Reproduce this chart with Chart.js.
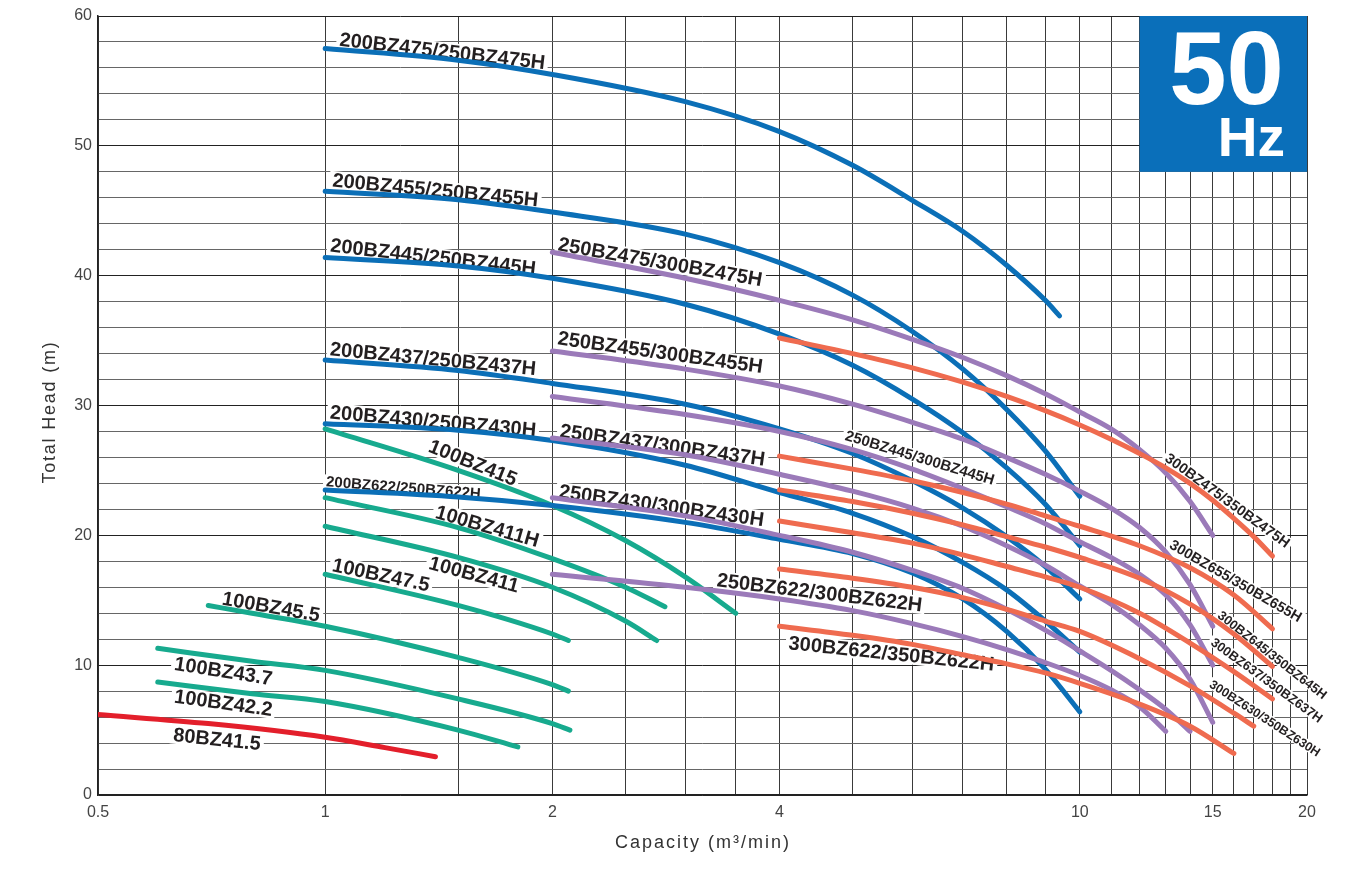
<!DOCTYPE html>
<html lang="en">
<head>
<meta charset="UTF-8">
<title>BZ pump curves 50Hz</title>
<script src="https://cdn.jsdelivr.net/npm/chart.js"></script>
<style>
  body { margin: 0; background: #fff; }
  canvas { display: block; }
</style>
</head>
<body>
<canvas id="chart" width="1372" height="875"></canvas>
<script>
// capacity (m3/min), total head (m)
const c80BZ41_5  = [[0.5,6.2],[0.7,5.5],[1,4.45],[1.2,3.65],[1.4,2.95]];
const c100BZ42_2 = [[0.6,8.7],[0.8,7.8],[1,7.2],[1.5,5.0],[1.8,3.7]];
const c100BZ43_7 = [[0.6,11.3],[0.8,10.3],[1,9.6],[1.5,7.4],[2,5.5],[2.11,5.0]];
const c100BZ45_5 = [[0.7,14.6],[0.8,14.0],[1,13.0],[1.5,10.6],[2,8.5],[2.1,8.0]];
const c100BZ47_5 = [[1,17.0],[1.5,14.6],[2,12.4],[2.1,11.9]];
const c100BZ411  = [[1,20.7],[1.5,18.3],[2,16.0],[2.5,13.4],[2.75,11.9]];
const c100BZ411H = [[1,22.9],[1.5,20.6],[2,18.2],[2.5,16.0],[2.82,14.5]];
const c100BZ415  = [[1,28.2],[1.5,25.0],[2,22.3],[2.5,19.6],[3,16.8],[3.5,14.0]];

const c200BZ475 = [[1,57.5],[1.5,56.6],[2,55.5],[3,53.4],[4,51.1],[5,48.5],[6,45.8],[7,43.4],[8,40.8],[9,38.1],[9.4,36.9]];
const c200BZ455 = [[1,46.5],[1.5,45.85],[2,44.9],[3,43.2],[4,41.0],[5,38.5],[6,35.7],[7,32.8],[8,29.7],[9,26.5],[10,23.0]];
const c200BZ445 = [[1,41.4],[1.5,40.75],[2,39.8],[3,37.8],[4,35.5],[5,33.1],[6,30.5],[7,27.9],[8,25.2],[9,22.4],[10,19.2]];
const c200BZ437 = [[1,33.5],[1.5,32.7],[2,31.7],[3,30.1],[4,28.2],[5,26.3],[6,24.2],[7,22.1],[8,19.9],[9,17.6],[10,15.1]];
const c200BZ430 = [[1,28.6],[1.5,28.1],[2,27.3],[3,25.4],[4,23.3],[5,21.7],[6,19.9],[7,17.9],[8,15.8],[9,13.4],[10,11.0]];
const c200BZ622 = [[1,23.5],[1.5,22.95],[2,22.3],[3,21.0],[4,19.7],[5,18.6],[6,17.1],[7,15.1],[8,12.6],[9,9.7],[10,6.4]];

const c250BZ475 = [[2,41.8],[3,39.8],[4,38.1],[5,36.6],[6,35.1],[7,33.7],[8,32.3],[9,30.9],[10,29.5],[11,28.2],[12,26.6],[13,24.8],[14,22.6],[15,20.0]];
const c250BZ455 = [[2,34.2],[3,32.8],[4,31.5],[5,30.1],[6,28.7],[7,27.4],[8,26.0],[9,24.7],[10,23.4],[11,22.1],[12,20.6],[13,18.7],[14,16.2],[15,13.0]];
const c250BZ445 = [[2,30.7],[3,29.3],[4,28.0],[5,26.6],[6,25.1],[7,23.6],[8,22.2],[9,20.9],[10,19.5],[11,18.3],[12,17.0],[13,15.4],[14,13.1],[15,10.0]];
const c250BZ437 = [[2,27.5],[3,26.2],[4,24.7],[5,23.4],[6,22.1],[7,20.7],[8,19.2],[9,17.7],[10,16.1],[11,14.7],[12,13.1],[13,11.3],[14,8.9],[15,5.6]];
const c250BZ430 = [[2,22.9],[3,21.5],[4,20.0],[5,18.7],[6,17.3],[7,15.9],[8,14.3],[9,12.7],[10,11.1],[11,9.6],[12,8.1],[13,6.6],[14,4.9]];
const c250BZ622 = [[2,17.0],[3,16.0],[4,15.1],[5,14.2],[6,13.2],[7,12.2],[8,11.2],[9,10.2],[10,9.2],[11,8.1],[12,6.8],[13,4.9]];

const c300BZ475 = [[4,35.2],[5,34.0],[6,32.9],[7,31.8],[8,30.7],[9,29.6],[10,28.5],[11,27.4],[12,26.3],[13,25.2],[14,24.0],[15,22.7],[16,21.3],[17,19.9],[18,18.4]];
const c300BZ655 = [[4,26.1],[5,25.1],[6,24.2],[7,23.3],[8,22.4],[9,21.5],[10,20.7],[12,19.2],[14,17.5],[16,15.4],[18,12.8]];
const c300BZ645 = [[4,23.5],[5,22.6],[6,21.7],[7,20.8],[8,19.9],[9,19.1],[10,18.3],[12,16.7],[14,14.7],[16,12.4],[18,9.9]];
const c300BZ637 = [[4,21.1],[5,20.2],[6,19.4],[7,18.5],[8,17.6],[9,16.8],[10,16.0],[12,14.0],[14,11.7],[16,9.5],[18,7.4]];
const c300BZ630 = [[4,17.4],[5,16.7],[6,16.0],[7,15.2],[8,14.3],[9,13.4],[10,12.6],[12,10.5],[14,8.4],[16,6.3],[17,5.3]];
const c300BZ622 = [[4,13.0],[5,12.3],[6,11.6],[7,10.8],[8,10.1],[9,9.4],[10,8.6],[12,7.0],[14,5.3],[16,3.2]];

const xGrid   = [0.5,1,1.5,2,2.5,3,3.5,4,5,6,7,8,9,10,11,12,13,14,15,16,17,18,19,20];
const xLabels = [0.5,1,2,4,10,15,20];

const BLUE = '#0b6fb7', TEAL = '#17aa8e', PURPLE = '#9b7ab9', ORANGE = '#ef6b4f', RED = '#e31f2b';

// drawn first = on top
const curves = [
  [c300BZ475, ORANGE], [c300BZ655, ORANGE], [c300BZ645, ORANGE], [c300BZ637, ORANGE], [c300BZ630, ORANGE], [c300BZ622, ORANGE],
  [c250BZ475, PURPLE], [c250BZ455, PURPLE], [c250BZ445, PURPLE], [c250BZ437, PURPLE], [c250BZ430, PURPLE], [c250BZ622, PURPLE],
  [c200BZ475, BLUE], [c200BZ455, BLUE], [c200BZ445, BLUE], [c200BZ437, BLUE], [c200BZ430, BLUE], [c200BZ622, BLUE],
  [c100BZ415, TEAL], [c100BZ411H, TEAL], [c100BZ411, TEAL], [c100BZ47_5, TEAL], [c100BZ45_5, TEAL], [c100BZ43_7, TEAL], [c100BZ42_2, TEAL],
  [c80BZ41_5, RED]
];

// text, q, h, angle, size
const tags = [
  ['200BZ475/250BZ475H', 1.43, 57.3, 6.5, 20],
  ['200BZ455/250BZ455H', 1.40, 46.6, 5.5, 20],
  ['200BZ445/250BZ445H', 1.39, 41.45, 6.5, 20],
  ['200BZ437/250BZ437H', 1.39, 33.6, 5.5, 20],
  ['200BZ430/250BZ430H', 1.39, 28.8, 5, 20],
  ['200BZ622/250BZ622H', 1.27, 23.7, 4.5, 15],
  ['100BZ415', 1.57, 25.6, 22, 20],
  ['100BZ411H', 1.64, 20.7, 16, 20],
  ['100BZ411', 1.575, 17.0, 15, 20],
  ['100BZ47.5', 1.186, 16.95, 12, 20],
  ['100BZ45.5', 0.848, 14.5, 10, 20],
  ['100BZ43.7', 0.733, 9.55, 9, 20],
  ['100BZ42.2', 0.733, 7.1, 8, 20],
  ['80BZ41.5', 0.719, 4.3, 6, 20],
  ['250BZ475/300BZ475H', 2.78, 41.06, 10, 20],
  ['250BZ455/300BZ455H', 2.78, 34.1, 8, 20],
  ['250BZ437/300BZ437H', 2.80, 26.96, 8, 20],
  ['250BZ430/300BZ430H', 2.79, 22.3, 8, 20],
  ['250BZ445/300BZ445H', 6.14, 26.0, 17, 15],
  ['250BZ622/300BZ622H', 4.52, 15.6, 7, 20],
  ['300BZ622/350BZ622H', 5.63, 10.9, 6, 20],
  ['300BZ475/350BZ475H', 15.7, 22.7, 36, 14.5],
  ['300BZ655/350BZ655H', 16.1, 16.5, 30, 14.5],
  ['300BZ645/350BZ645H', 18.0, 10.8, 38, 13],
  ['300BZ637/350BZ637H', 17.7, 8.86, 36, 13],
  ['300BZ630/350BZ630H', 17.6, 5.93, 33, 12.5]
];

const overlay = {
  id: 'overlay',
  beforeDatasetsDraw(chart) {
    const { ctx, scales: { x, y } } = chart;
    // 50 Hz badge
    const bx = x.getPixelForValue(12), by = y.getPixelForValue(60);
    const bw = x.getPixelForValue(20) - bx, bh = y.getPixelForValue(48) - by;
    ctx.save();
    ctx.fillStyle = '#0a6fba';
    ctx.fillRect(bx, by, bw, bh);
    ctx.fillStyle = '#fff';
    ctx.textAlign = 'center';
    ctx.textBaseline = 'alphabetic';
    ctx.font = 'bold 103px "Liberation Sans", Arial, sans-serif';
    ctx.fillText('50', bx + 87, by + 88);
    ctx.textAlign = 'right';
    ctx.font = 'bold 55px "Liberation Sans", Arial, sans-serif';
    ctx.fillText('Hz', bx + bw - 22, by + 140);
    ctx.restore();

    // curve names
    tags.forEach(([t, q, h, a, s]) => {
      const px = x.getPixelForValue(q), py = y.getPixelForValue(h);
      ctx.save();
      ctx.translate(px, py);
      ctx.rotate(a * Math.PI / 180);
      ctx.font = 'bold ' + s + 'px "Liberation Sans", Arial, sans-serif';
      const w = ctx.measureText(t).width;
      ctx.fillStyle = '#fff';
      ctx.fillRect(-w / 2 - 3, -s * 0.45, w + 6, s * 0.9);
      ctx.fillStyle = '#231f20';
      ctx.textAlign = 'center';
      ctx.textBaseline = 'middle';
      ctx.fillText(t, 0, 1);
      ctx.restore();
    });
  },
  afterDraw(chart) {
    const { ctx } = chart;
    ctx.save();
    ctx.fillStyle = '#333';
    ctx.font = '18px "Liberation Sans", Arial, sans-serif';
    ctx.letterSpacing = '2px';
    ctx.textAlign = 'center';
    ctx.textBaseline = 'middle';
    ctx.fillText('Capacity (m\u00b3/min)', 703, 843);
    ctx.translate(50, 412);
    ctx.rotate(-Math.PI / 2);
    ctx.letterSpacing = '1.8px';
    ctx.fillText('Total Head (m)', 0, 0);
    ctx.restore();
  }
};

new Chart(document.getElementById('chart'), {
  type: 'line',
  data: {
    datasets: curves.map(([pts, col]) => ({
      data: pts.map(([q, h]) => ({ x: q, y: h })),
      borderColor: col,
      borderWidth: 5,
      borderCapStyle: 'round',
      pointRadius: 0,
      fill: false,
      cubicInterpolationMode: 'monotone'
    }))
  },
  options: {
    responsive: false,
    animation: false,
    devicePixelRatio: 1,
    layout: { padding: { top: 16, right: 65, left: 0, bottom: 0 } },
    plugins: { legend: { display: false }, tooltip: { enabled: false } },
    scales: {
      x: {
        type: 'logarithmic',
        min: 0.5,
        max: 20,
        afterBuildTicks(s) { s.ticks = xGrid.map(v => ({ value: v })); },
        afterFit(s) { s.height = 80; },
        ticks: {
          autoSkip: false,
          maxRotation: 0,
          padding: 8,
          color: '#444',
          font: { size: 16, family: '"Liberation Sans", Arial, sans-serif' },
          callback: v => xLabels.includes(v) ? String(v) : ''
        },
        grid: { color: '#3a3a3a', lineWidth: 1, drawTicks: false },
        border: { color: '#222', width: 1.5 }
      },
      y: {
        min: 0,
        max: 60,
        afterFit(s) { s.width = 98; },
        ticks: {
          stepSize: 2,
          autoSkip: false,
          padding: 6,
          color: '#444',
          font: { size: 16, family: '"Liberation Sans", Arial, sans-serif' },
          callback: v => v % 10 === 0 ? String(v) : ''
        },
        grid: {
          color: c => c.tick && c.tick.value % 10 === 0 ? '#222' : '#666',
          lineWidth: 1,
          drawTicks: false
        },
        border: { color: '#222', width: 1.5 }
      }
    }
  },
  plugins: [overlay]
});
</script>
</body>
</html>
